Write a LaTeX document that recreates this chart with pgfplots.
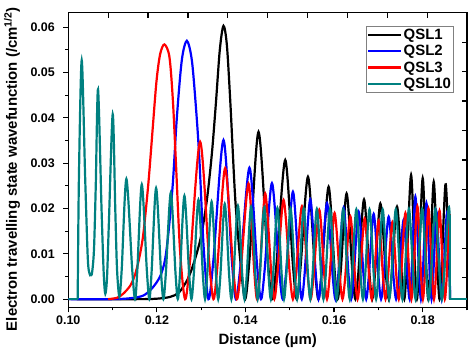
\documentclass[border=0pt]{standalone}
\usepackage{pgfplots}
\pgfplotsset{compat=1.18}
\usepackage{fontspec}
\setmainfont{Liberation Sans}
\definecolor{qteal}{RGB}{0,128,128}
\definecolor{qblue}{RGB}{0,0,255}
\definecolor{qred}{RGB}{255,0,0}
\begin{document}
\begin{tikzpicture}
\begin{axis}[
  scale only axis, width=398.7bp, height=294.6bp,
  xmin=0.10, xmax=0.19, ymin=-0.0018, ymax=0.0632,
  axis line style={line width=1.5bp},
  xtick={0.10,0.12,0.14,0.16,0.18},
  minor xtick={0.11,0.13,0.15,0.17,0.19},
  ytick={0,0.01,0.02,0.03,0.04,0.05,0.06},
  minor ytick={0.005,0.015,0.025,0.035,0.045,0.055},
  xtick pos=bottom, ytick pos=left,
  tick align=outside,
  major tick length=5bp, minor tick length=3bp,
  every tick/.style={line width=1.2bp, black},
  scaled ticks=false,
  /pgf/number format/fixed, /pgf/number format/fixed zerofill, /pgf/number format/precision=2,
  /pgf/number format/assume math mode=true,
  ticklabel style={font=\fontsize{12.5}{14}\selectfont\bfseries},
  yticklabel style={xshift=-5bp},
  xlabel={Distance (µm)},
  ylabel={Electron travelling state wavefunction (/cm\textsuperscript{1/2})},
  label style={font=\fontsize{15}{17}\selectfont\bfseries},
  xlabel style={at={(axis description cs:0.5,-0.112)}, anchor=center},
  ylabel style={at={(axis description cs:-0.1412,0.469)}, anchor=center},
  legend cell align=left,
  legend image code/.code={\draw[#1, line width=2.2bp] (0bp,0bp) -- (33bp,0bp);},
  legend style={at={(rel axis cs:0.967,0.955)}, anchor=north east, draw=gray, line width=0.6bp,
    font=\fontsize{15}{17}\selectfont\bfseries, inner xsep=1bp, inner ysep=1bp,
    nodes={inner xsep=1.5bp, inner ysep=1.5bp}, row sep=1.5bp},
]
\coordinate (bl) at (rel axis cs:0,0);
\coordinate (tr) at (rel axis cs:1,1);
% QSL1
\addplot[black, line width=2.2bp, smooth] coordinates {
(0.1000,0) (0.1160,0) (0.1200,0.0001) (0.1230,0.0005) (0.1250,0.0015) (0.1270,0.0045) (0.1285,0.0085)
(0.1300,0.0140) (0.1313,0.0220) (0.1324,0.0320) (0.1333,0.0430) (0.1342,0.0550) (0.13503,0.0603)
(0.1358,0.0560) (0.1366,0.0430) (0.1377,0.0219) (0.13893,0.0075)
(0.13993,0) (0.14093,0.0092) (0.14294,0.0369) (0.14498,0.0092)
(0.14600,0) (0.14699,0.0077) (0.14897,0.0307) (0.15069,0.0077)
(0.15155,0) (0.15240,0.00675) (0.15410,0.0270) (0.15567,0.00675)
(0.15645,0) (0.15722,0.0062) (0.15876,0.0248) (0.16012,0.0062)
(0.16080,0) (0.16147,0.00583) (0.16282,0.0233) (0.16414,0.00583)
(0.16480,0) (0.16545,0.0055) (0.16676,0.0220) (0.16799,0.0055)
(0.16860,0) (0.16921,0.00528) (0.17044,0.0211) (0.17171,0.00528)
(0.17235,0) (0.17297,0.0051) (0.17421,0.0204) (0.17530,0.0051)
(0.17585,0) (0.17636,0.00685) (0.17738,0.0274) (0.17826,0.00685)
(0.17870,0) (0.17913,0.00668) (0.18000,0.0267) (0.18083,0.00668)
(0.18125,0) (0.18166,0.00648) (0.18249,0.0259) (0.18336,0.00648)
(0.18380,0) (0.18424,0.00633) (0.18513,0.0253) (0.1857,0.0150) (0.1861,0.0039) (0.18615,0)
};
\addlegendentry{QSL1}
% QSL2
\addplot[qblue, line width=2.2bp, smooth] coordinates {
(0.1000,0) (0.1100,0) (0.1140,0.0002) (0.11695,0.0008) (0.1190,0.0025) (0.12072,0.0050) (0.1218,0.0085)
(0.1226,0.0146) (0.1236,0.0256) (0.1245,0.0400) (0.12562,0.0527) (0.12676,0.0570) (0.12789,0.0527)
(0.12886,0.0417) (0.1296,0.0307) (0.13055,0.0115)
(0.13164,0) (0.13277,0.00878) (0.13503,0.0351) (0.13690,0.00878)
(0.13783,0) (0.13885,0.00725) (0.14090,0.0290) (0.14263,0.00725)
(0.14350,0) (0.14432,0.0064) (0.14597,0.0256) (0.14759,0.0064)
(0.14840,0) (0.14917,0.00593) (0.15071,0.0237) (0.15204,0.00593)
(0.15270,0) (0.15334,0.0055) (0.15462,0.0220) (0.15587,0.0055)
(0.15650,0) (0.15713,0.0053) (0.15840,0.0212) (0.15967,0.0053)
(0.16030,0) (0.16092,0.00505) (0.16215,0.0202) (0.16328,0.00505)
(0.16385,0) (0.16441,0.00483) (0.16554,0.0193) (0.16668,0.00483)
(0.16725,0) (0.16781,0.0047) (0.16893,0.0188) (0.17004,0.0047)
(0.17060,0) (0.17117,0.00455) (0.17232,0.0182) (0.17344,0.00455)
(0.17400,0) (0.17457,0.00438) (0.17570,0.0175) (0.17660,0.00438)
(0.17705,0) (0.17748,0.00565) (0.17835,0.0226) (0.17918,0.00565)
(0.17960,0) (0.18001,0.0053) (0.18084,0.0212) (0.18161,0.0053)
(0.18200,0) (0.18237,0.00483) (0.18310,0.0193) (0.18390,0.00483)
(0.18430,0) (0.18467,0.00463) (0.18540,0.0185) (0.18575,0.0142) (0.1861,0.0055) (0.18615,0)
};
\addlegendentry{QSL2}
% QSL3
\addplot[qred, line width=2.2bp, smooth] coordinates {
(0.1090,0) (0.1110,0.0003) (0.1124,0.0012) (0.1140,0.0030) (0.1151,0.0055) (0.1161,0.0095) (0.11695,0.0145)
(0.11808,0.0256) (0.1190,0.0370) (0.1199,0.0480) (0.12072,0.0540) (0.12169,0.0562) (0.12282,0.0535)
(0.1236,0.0440) (0.1243,0.0300) (0.12524,0.0105)
(0.12637,0) (0.12750,0.00868) (0.12976,0.0347) (0.13177,0.00868)
(0.13277,0) (0.13365,0.00723) (0.13541,0.0289) (0.13718,0.00723)
(0.13806,0) (0.13893,0.00638) (0.14068,0.0255) (0.14196,0.00638)
(0.14260,0) (0.14322,0.00583) (0.14445,0.0233) (0.14582,0.00583)
(0.14650,0) (0.14720,0.00548) (0.14859,0.0219) (0.15000,0.00548)
(0.15070,0) (0.15138,0.00513) (0.15275,0.0205) (0.15405,0.00513)
(0.15470,0) (0.15535,0.00493) (0.15666,0.0197) (0.15782,0.00493)
(0.15840,0) (0.15897,0.00475) (0.16011,0.0190) (0.16130,0.00475)
(0.16190,0) (0.16249,0.00458) (0.16366,0.0183) (0.16475,0.00458)
(0.16530,0) (0.16583,0.00445) (0.16689,0.0178) (0.16796,0.00445)
(0.16850,0) (0.16902,0.00433) (0.17006,0.0173) (0.17109,0.00433)
(0.17160,0) (0.17212,0.00425) (0.17315,0.0170) (0.17412,0.00425)
(0.17460,0) (0.17510,0.00475) (0.17610,0.0190) (0.17700,0.00475)
(0.17745,0) (0.17790,0.00513) (0.17880,0.0205) (0.17963,0.00513)
(0.18005,0) (0.18047,0.0050) (0.18130,0.0200) (0.18213,0.0050)
(0.18255,0) (0.18297,0.00488) (0.18380,0.0195) (0.18460,0.00488)
(0.18500,0) (0.18540,0.00475) (0.18580,0.0143) (0.1861,0.0187)
};
\addlegendentry{QSL3}
\addplot[qred, line width=2.2bp, sharp plot, forget plot] coordinates {(0.1861,0.0187) (0.1861,0)};
% QSL10
\addplot[qteal, line width=2.2bp, sharp plot, forget plot] coordinates {(0.1000,0) (0.10212,0)};
\addplot[qteal, line width=2.2bp, smooth] coordinates {
(0.10212,0) (0.10240,0.0270) (0.10303,0.0527) (0.1038,0.0270) (0.1044,0.0090) (0.1048,0.0056)
(0.10505,0.0054) (0.10536,0.0058) (0.1058,0.0110) (0.1062,0.0250) (0.10671,0.0463) (0.1075,0.0200)
(0.1080,0.0055) (0.10836,0.0012) (0.10875,0.0050) (0.1092,0.0180) (0.11003,0.0408) (0.1106,0.0200)
(0.1110,0.0066) (0.11153,0.0006) (0.11206,0.0066) (0.11311,0.0265) (0.11442,0.0066)
(0.11507,0) (0.11558,0.00633) (0.11659,0.0253) (0.11773,0.00633)
(0.11830,0) (0.11881,0.00613) (0.11982,0.0245) (0.12092,0.00613)
(0.12147,0) (0.12203,0.00588) (0.12314,0.0235) (0.12419,0.00588)
(0.12472,0) (0.12522,0.0057) (0.12621,0.0228) (0.12727,0.0057)
(0.12780,0) (0.12833,0.00548) (0.12938,0.0219) (0.13037,0.00548)
(0.13087,0) (0.13136,0.00538) (0.13235,0.0215) (0.13334,0.00538)
(0.13384,0) (0.13433,0.00525) (0.13532,0.0210) (0.13631,0.00525)
(0.13681,0) (0.13730,0.00515) (0.13829,0.0206) (0.13928,0.00515)
(0.13978,0) (0.14027,0.0051) (0.14126,0.0204) (0.14225,0.0051)
(0.14275,0) (0.14324,0.00505) (0.14423,0.0202) (0.14522,0.00505)
(0.14572,0) (0.14621,0.00503) (0.14720,0.0201) (0.14819,0.00503)
(0.14869,0) (0.14918,0.0050) (0.15017,0.0200) (0.15116,0.0050)
(0.15166,0) (0.15215,0.0050) (0.15314,0.0200) (0.15413,0.0050)
(0.15463,0) (0.15512,0.00498) (0.15611,0.0199) (0.15710,0.00498)
(0.15760,0) (0.15809,0.00498) (0.15908,0.0199) (0.16007,0.00498)
(0.16057,0) (0.16106,0.00495) (0.16205,0.0198) (0.16304,0.00495)
(0.16354,0) (0.16403,0.00495) (0.16502,0.0198) (0.16601,0.00495)
(0.16651,0) (0.16700,0.00495) (0.16799,0.0198) (0.16898,0.00495)
(0.16948,0) (0.16997,0.00495) (0.17096,0.0198) (0.17195,0.00495)
(0.17245,0) (0.17294,0.00495) (0.17393,0.0198) (0.17492,0.00495)
(0.17542,0) (0.17591,0.00498) (0.17690,0.0199) (0.17789,0.00498)
(0.17839,0) (0.17888,0.00498) (0.17987,0.0199) (0.18086,0.00498)
(0.18136,0) (0.18185,0.00498) (0.18284,0.0199) (0.18383,0.00498)
(0.18433,0) (0.18482,0.00495) (0.18581,0.0198) (0.1861,0.0181)
};
\addlegendentry{QSL10}
\addplot[qteal, line width=2.2bp, sharp plot, forget plot] coordinates {(0.1861,0.0181) (0.1861,0) (0.1900,0)};
\end{axis}
\begin{axis}[
  scale only axis, width=398.7bp, height=294.6bp,
  xmin=0.10, xmax=0.19, ymin=-0.0018, ymax=0.0632,
  axis line style={draw=none},
  xtick={0.109,0.118,0.127,0.136,0.145,0.154,0.163,0.172,0.181},
  ytick={0.0047,0.0112,0.0177,0.0242,0.0307,0.0372,0.0437,0.0502,0.0567},
  xticklabels={}, yticklabels={},
  xtick pos=top, ytick pos=right, tick align=inside,
  major tick length=5bp,
  every tick/.style={line width=1.2bp, black},
  scaled ticks=false,
]
\end{axis}
\pgfresetboundingbox
\path ([shift={(-68.3bp,-43.7bp)}]bl) rectangle ([shift={(7bp,12.7bp)}]tr);
\end{tikzpicture}
\end{document}
